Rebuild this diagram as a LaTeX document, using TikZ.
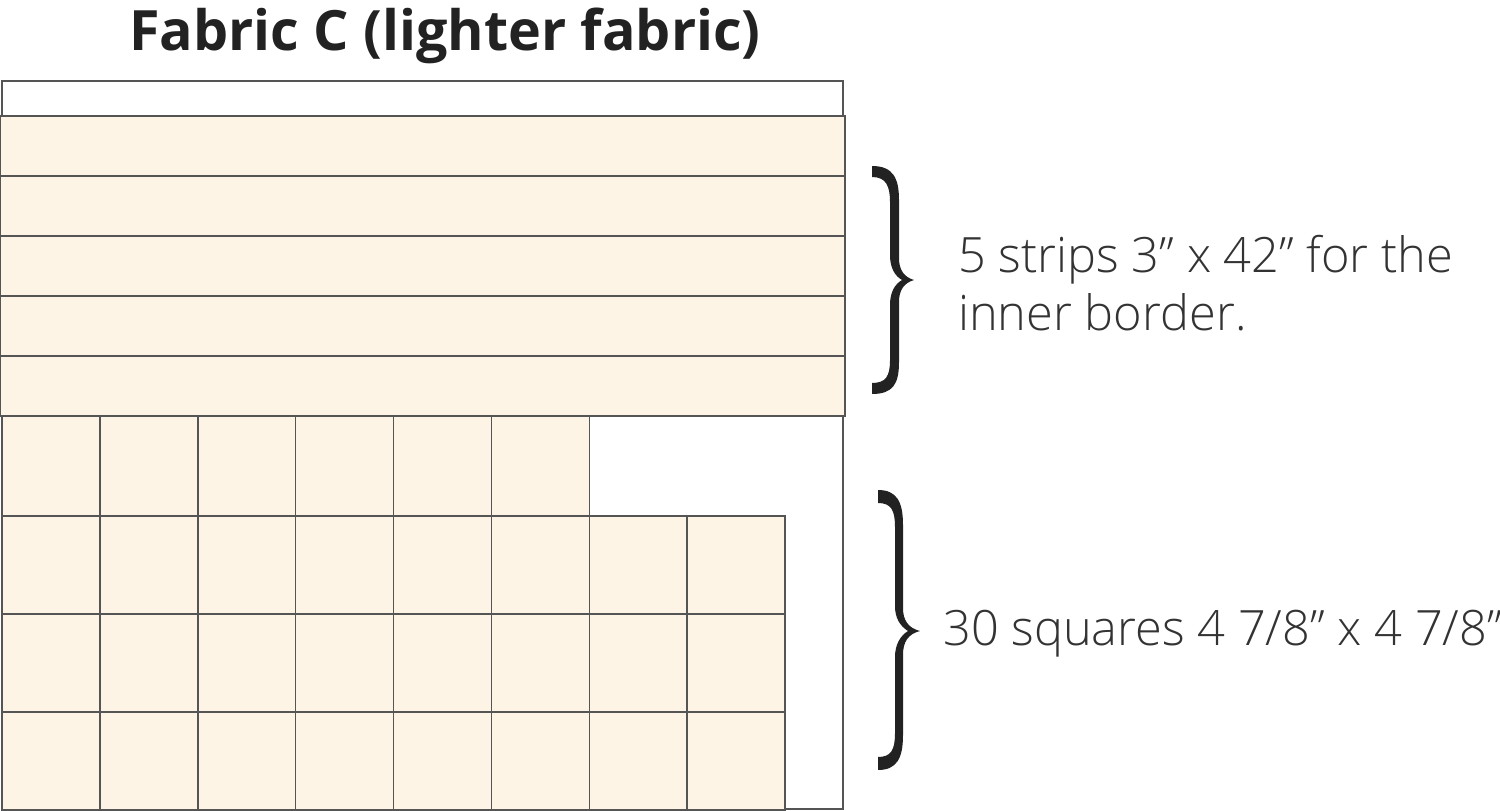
\documentclass[tikz,border=0pt]{standalone}
\usepackage{fontspec}
\setmainfont{Open Sans}
\newfontfamily\lightfont{Open Sans Light}
\definecolor{fab}{HTML}{FEF4E6}
\definecolor{edge}{HTML}{555555}
\definecolor{ink}{HTML}{222222}
\definecolor{txt}{HTML}{333333}
\begin{document}
\begin{tikzpicture}[x=1pt,y=-1pt,
  cut/.style={draw=edge,line width=1.5pt,fill=fab},
  outline/.style={draw=edge,line width=1.5pt,fill=white},
  bracefill/.style={fill=ink,draw=none},
  label/.style={anchor=base west,inner sep=0pt,text=txt,font=\lightfont\fontsize{48.7}{58}\selectfont,align=left},
  titlestyle/.style={anchor=base,inner sep=0pt,text=ink,font=\fontsize{55.6}{68}\selectfont\bfseries}]
\useasboundingbox (0,0) rectangle (1500,811);
% fabric
\draw[outline] (2,81) rectangle (843,809);
% strips
\foreach \i in {0,...,4}
  \draw[cut] (0,116+60*\i) rectangle (845,176+60*\i);
% squares
\foreach \c in {0,...,5}
  \draw[cut] (2+97.875*\c,416) rectangle (2+97.875*\c+97.875,516);
\foreach \r in {0,1,2}
  \foreach \c in {0,...,7}
    \draw[cut] (2+97.875*\c,516+98*\r) rectangle (2+97.875*\c+97.875,614+98*\r);
% braces
\fill[bracefill] (872,166) .. controls (893,166) and (899,178) .. (899,200) -- (899,258)
  .. controls (899,270) and (904,277) .. (914,280)
  .. controls (904,283) and (899,290) .. (899,302) -- (899,362)
  .. controls (899,384) and (893,394) .. (872,394) -- (872,383)
  .. controls (886,383) and (890,376) .. (890,360) -- (890,305)
  .. controls (890,292) and (895,284) .. (902,280)
  .. controls (895,276) and (890,268) .. (890,255) -- (890,202)
  .. controls (890,186) and (886,177) .. (872,177) -- cycle;
\fill[bracefill] (878,490) .. controls (897,490) and (903,502) .. (903,525) -- (903,608)
  .. controls (903,620) and (908,628) .. (920,631)
  .. controls (908,634) and (903,642) .. (903,655) -- (903,735)
  .. controls (903,758) and (897,770) .. (878,770) -- (878,757)
  .. controls (891,757) and (895,750) .. (895,733) -- (895,657)
  .. controls (895,645) and (900,636) .. (908,631)
  .. controls (900,626) and (895,618) .. (895,606) -- (895,527)
  .. controls (895,510) and (891,503) .. (878,503) -- cycle;
% texts
\node[titlestyle] (title) at (445,50) {Fabric C (lighter fabric)};
\node[label] (strips) at (958,272) {5 strips 3” x 42” for the};
\node[label] (inner) at (958,330) {inner border.};
\node[label] (squares) at (943,645) {30 squares 4 7/8” x 4 7/8”};
\end{tikzpicture}
\end{document}
